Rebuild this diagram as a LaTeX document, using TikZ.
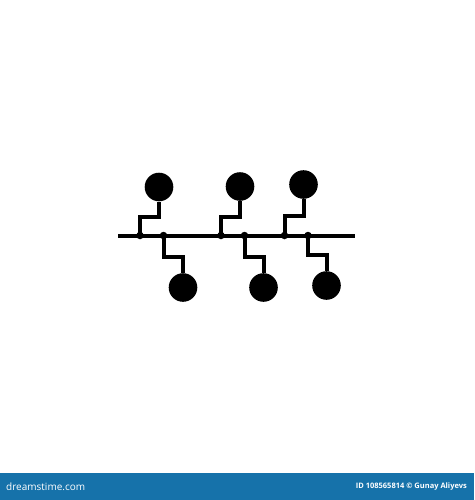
\documentclass[tikz,border=0pt]{standalone}
\usepackage{fontspec}
\setmainfont{Liberation Sans}
\newfontfamily\barfont{Open Sans}
\begin{document}
\begin{tikzpicture}[x=1pt,y=-1pt,
  disc/.style={circle,fill=black,inner sep=0pt,minimum size=28.6pt},
  junc/.style={circle,fill=black,inner sep=0pt,minimum size=7.5pt},
  wire/.style={line width=4pt,black,line join=miter},
  bartext/.style={text=white,inner sep=0pt,font=\barfont\bfseries\fontsize{7.5}{9}\selectfont}]
\useasboundingbox (0,0) rectangle (474,500);
\fill[white] (0,0) rectangle (474,500);
% bottom bar
\fill[fill={rgb,255:red,22;green,114;blue,170}] (0,473) rectangle (474,500);
\node[bartext,anchor=west,font=\barfont\fontsize{10}{12}\selectfont] (brand) at (6,487) {dreamstime.com};
\node[bartext,anchor=east] (credit) at (467,487) {ID 108565814 \textcopyright{} Gunay Aliyevs};
% bus
\coordinate (L) at (118,235.5);
\coordinate (R) at (355,235.5);
\draw[wire] (L) -- (R);
% junctions
\node[junc] (j1) at (140,235.5) {};
\node[junc] (j2) at (163.5,235.5) {};
\node[junc] (j3) at (221,235.5) {};
\node[junc] (j4) at (244.5,235.5) {};
\node[junc] (j5) at (284.5,235.5) {};
\node[junc] (j6) at (308,235.5) {};
% discs
\node[disc] (t1) at (159,187) {};
\node[disc] (t2) at (240,186.5) {};
\node[disc] (t3) at (303.5,184.5) {};
\node[disc] (b1) at (183,287.5) {};
\node[disc] (b2) at (263.5,287.5) {};
\node[disc] (b3) at (326.5,285.5) {};
% connectors
\draw[wire] (j1.center) -- ++(0,-18.5) -| (t1);
\draw[wire] (j3.center) -- ++(0,-18.5) -| (t2);
\draw[wire] (j5.center) -- ++(0,-20) -| (t3);
\draw[wire] (j2.center) -- ++(0,21.5) -| (b1);
\draw[wire] (j4.center) -- ++(0,21.5) -| (b2);
\draw[wire] (j6.center) -- ++(0,19) -| (b3);
\end{tikzpicture}
\end{document}
